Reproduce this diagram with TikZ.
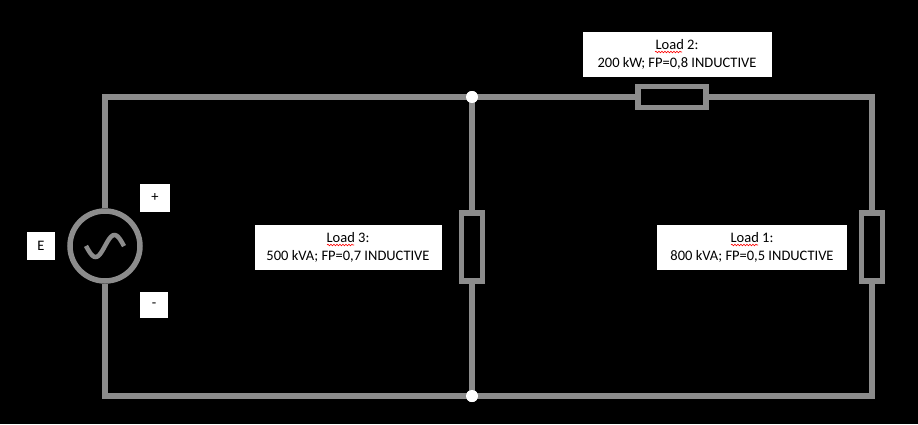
\documentclass[tikz,border=0pt]{standalone}
\usepackage{fontspec}
\setmainfont{Carlito}
\usetikzlibrary{decorations.pathmorphing}
\tikzset{wire/.style={draw=gray!90!white,line width=5.5pt},
  res/.style={rectangle,draw=gray!90!white,line width=5.5pt,fill=black,inner sep=0pt},
  junc/.style={circle,fill=white,inner sep=0pt,minimum size=12pt},
  lbl/.style={rectangle,fill=white,text=black,font=\fontsize{14.5pt}{18pt}\selectfont,align=center,inner sep=0pt},
  spell/.style={draw=red,line width=0.6pt,decorate,decoration={snake,amplitude=0.8pt,segment length=3pt}}}
\begin{document}
\begin{tikzpicture}[x=1pt,y=-1pt]
  \fill[black] (0,0) rectangle (918,424);
  \useasboundingbox (0,0) rectangle (918,424);
  % corners and junctions
  \coordinate (tl) at (105,97);
  \coordinate (bl) at (105,396);
  \coordinate (tr) at (872,97);
  \coordinate (br) at (872,396);
  \node[junc] (jt) at (472,97) {};
  \node[junc] (jb) at (472,396) {};
  % source
  \node[circle,draw=gray!90!white,line width=5.5pt,fill=black,minimum size=70pt,inner sep=0pt] (src) at (105,246) {};
  % resistors
  \node[res,minimum width=21pt,minimum height=68pt] (r3) at (472,247) {};
  \node[res,minimum width=21pt,minimum height=68pt] (r1) at (872,247) {};
  \node[res,minimum width=68pt,minimum height=21pt] (r2) at (672,97) {};
  % wires
  \draw[wire,line join=miter] (src.north) -- (tl) -- (jt.center) -- (r2.west);
  \draw[wire,line join=miter] (r2.east) -- (tr) -- (r1.north);
  \draw[wire,line join=miter] (r1.south) -- (br) -- (bl) -- (src.south);
  \draw[wire] (jt.center) -- (r3.north);
  \draw[wire] (r3.south) -- (jb.center);
  \node[junc] at (jt) {};
  \node[junc] at (jb) {};
  \draw[gray!90!white,line width=4.5pt,domain=-19:19,samples=40,smooth]
    plot ({105+\x},{246-11*sin(\x*9.5)});
  % labels
  \node[lbl,minimum width=189pt,minimum height=45pt] (l2) at (677,54) {Load 2:\\200 kW; FP=0,8 INDUCTIVE};
  \node[lbl,minimum width=187pt,minimum height=45pt] (l3) at (348,247) {Load 3:\\500 kVA; FP=0,7 INDUCTIVE};
  \node[lbl,minimum width=190pt,minimum height=45pt] (l1) at (752,247) {Load 1:\\800 kVA; FP=0,5 INDUCTIVE};
  \node[lbl,minimum width=30pt,minimum height=28pt] (plus) at (155,198) {+};
  \node[lbl,minimum width=28pt,minimum height=26pt] (minus) at (154,305) {-};
  \node[lbl,minimum width=28pt,minimum height=28pt] (e) at (41,246) {E};
  \foreach \x/\y in {655/52,327/245,731/245} \draw[spell] (\x,\y) -- ++(27,0);
\end{tikzpicture}
\end{document}
